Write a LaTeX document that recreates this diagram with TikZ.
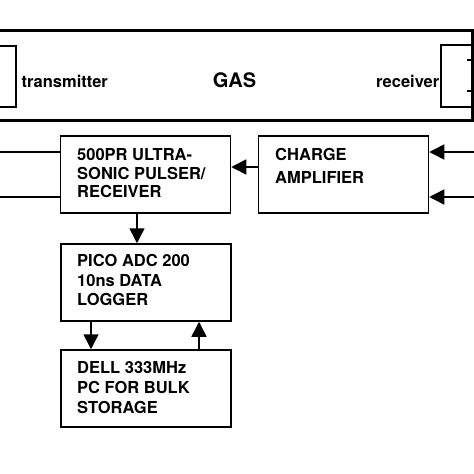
\documentclass[tikz,border=0pt]{standalone}
\usepackage{fontspec}
\setmainfont{TeX Gyre Heros}
\usetikzlibrary{arrows.meta}
\tikzset{
    unit/.style={draw,line width=1.5pt,minimum width=170pt,minimum height=77pt,inner sep=0pt},
    unittext/.style={anchor=north west,inner sep=0pt,align=left},
    wire/.style={line width=1.5pt},
    feed/.style={line width=1.5pt,-{Triangle[length=15pt,width=15pt]}},
}
\begin{document}
\begin{tikzpicture}[x=1pt,y=-1pt]
            \useasboundingbox (0,0) rectangle (474,474);
            % gas cell with the two transducers
            \draw[line width=3pt] (-5,30) rectangle (472,120);
            \draw[line width=1.5pt] (-5,46) rectangle (16,107);
            \draw[line width=1.5pt] (441,45) rectangle (472,107);
            \draw[line width=1.5pt] (467,60) -- (472,60);
            \draw[line width=1.5pt] (467,91) -- (472,91);
            \node[anchor=base west,inner sep=0pt,font=\bfseries\fontsize{16.5}{19}\selectfont] (txlabel) at (21.5,87) {transmitter};
            \node[anchor=base,inner sep=0pt,font=\bfseries\fontsize{20}{24}\selectfont] (gas) at (234.5,87.5) {GAS};
            \node[anchor=base east,inner sep=0pt,font=\bfseries\fontsize{16.5}{19}\selectfont] (rxlabel) at (439.5,87) {receiver};
            % electronics
            \node[unit] (pulser) at (145.5,174.5) {};
            \node[unit] (charge) at (343.5,174.5) {};
            \node[unit] (pico) at (146,282.5) {};
            \node[unit] (dell) at (146,388.5) {};
            \node[unittext,font=\bfseries\fontsize{16.5}{18.5}\selectfont] (pulsertxt) at (77,148.5) {500PR ULTRA-\\SONIC PULSER/\\RECEIVER};
            \node[unittext,font=\bfseries\fontsize{16.5}{22.5}\selectfont] (chargetxt) at (275,148.5) {CHARGE\\AMPLIFIER};
            \node[unittext,font=\bfseries\fontsize{16.5}{19.5}\selectfont] (picotxt) at (77,254.5) {PICO ADC 200\\10ns DATA\\LOGGER};
            \node[unittext,font=\bfseries\fontsize{16.5}{20}\selectfont] (delltxt) at (77,361) {DELL 333MHz\\PC FOR BULK\\STORAGE};
            % cables
            \coordinate (txA) at (-5,152);
            \coordinate (txB) at (-5,197);
            \coordinate (rxA) at (480,152);
            \coordinate (rxB) at (480,197);
            \draw[wire] (txA) -- (txA -| pulser.west);
            \draw[wire] (txB) -- (txB -| pulser.west);
            \draw[feed] (rxA) -- (rxA -| charge.east);
            \draw[feed] (rxB) -- (rxB -| charge.east);
            \draw[feed] ([yshift=7.5pt]charge.west) -- ([yshift=7.5pt]pulser.east);
            \draw[feed] ([xshift=-8.5pt]pulser.south) -- ([xshift=-8.5pt]pulser.south |- pico.north);
            \draw[feed] ([xshift=-55pt]pico.south) -- ([xshift=-55pt]pico.south |- dell.north);
            \draw[feed] ([xshift=53pt]dell.north) -- ([xshift=53pt]dell.north |- pico.south);
        \end{tikzpicture}
\end{document}
